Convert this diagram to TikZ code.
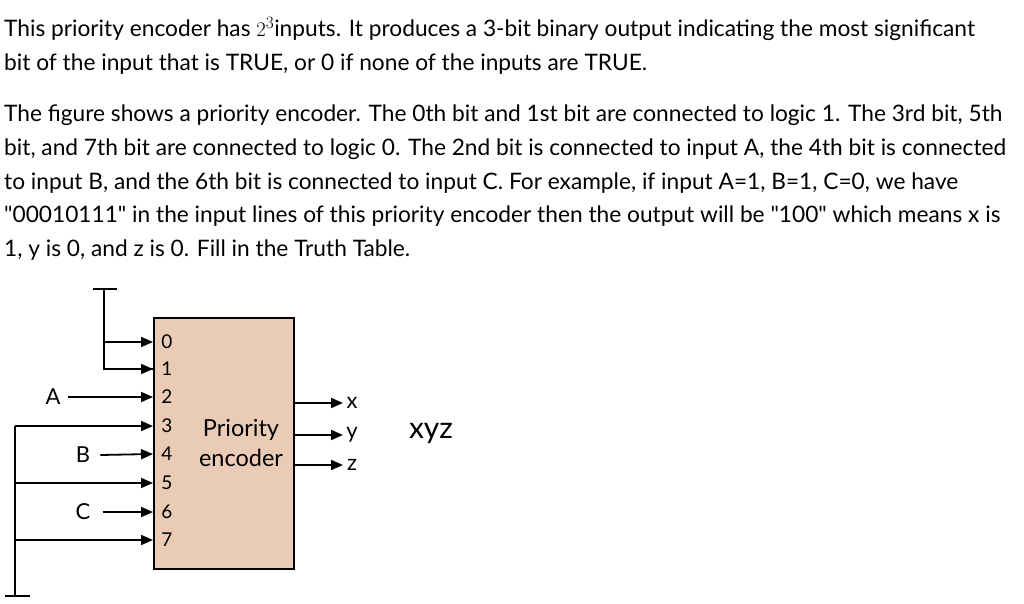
\documentclass[tikz,border=0pt]{standalone}
\usepackage{fontspec}
\setmainfont{Lato}
\usetikzlibrary{arrows.meta}
\definecolor{boxfill}{RGB}{234,204,182}
\begin{document}
\begin{tikzpicture}[x=1pt,y=-1pt,
  txt/.style={anchor=west,inner sep=0,font=\fontsize{22.7}{25}\selectfont},
  lbl/.style={inner sep=0,font=\fontsize{22}{24}\selectfont},
  wire/.style={line width=1.8pt},
  arr/.style={wire,-{Triangle[length=12pt,width=10pt]}}]
\useasboundingbox (0,0) rectangle (1024,604);
\node[txt] (t1) at (4,29) {This priority encoder has $2^3$inputs. It produces a 3-bit binary output indicating the most significant};
\node[txt] (t2) at (4,64) {bit of the input that is TRUE, or 0 if none of the inputs are TRUE.};
\node[txt] (t3) at (4,115) {The figure shows a priority encoder. The 0th bit and 1st bit are connected to logic 1. The 3rd bit, 5th};
\node[txt] (t4) at (4,149) {bit, and 7th bit are connected to logic 0. The 2nd bit is connected to input A, the 4th bit is connected};
\node[txt] (t5) at (4,183) {to input B, and the 6th bit is connected to input C. For example, if input A=1, B=1, C=0, we have};
\node[txt] (t6) at (4,216) {\textquotedbl 00010111\textquotedbl{} in the input lines of this priority encoder then the output will be \textquotedbl 100\textquotedbl{} which means x is};
\node[txt] (t7) at (4,250) {1, y is 0, and z is 0. Fill in the Truth Table.};
% box
\node[draw,line width=1.8pt,fill=boxfill,minimum width=140pt,minimum height=251pt,anchor=north west,inner sep=0] (box) at (153,317) {};
\node[lbl,align=center,font=\fontsize{23.5}{26}\selectfont] (pe) at (241,443) {Priority\\[4pt]encoder};
\foreach \i/\y in {0/342,1/369,2/397,3/426,4/454,5/483,6/512,7/540}{
  \coordinate (p\i) at (153,\y);
  \node[lbl,font=\fontsize{19}{21}\selectfont] (n\i) at (167,\y) {\i};
}
% logic 1
\coordinate (vt) at (104,289);
\coordinate (vtl) at (93,289); \coordinate (vtr) at (117,289);
\draw[wire] (vtl) -- (vtr);
\draw[wire] (vt) |- (p1);
\draw[arr] (104,342) -- (p0);
\draw[arr] (104,369) -- (p1);
% logic 0
\coordinate (vb) at (15,596);
\draw[wire] (5,596) -- (30,596);
\draw[wire] (vb) -- (15,426);
\draw[arr] (15,426) -- (p3);
\draw[arr] (15,483) -- (p5);
\draw[arr] (15,540) -- (p7);
% inputs
\node[lbl] (A) at (53,397) {A};
\node[lbl] (B) at (83,455) {B};
\node[lbl] (C) at (83,512) {C};
\draw[arr] (A.east)++(7,0) -- (p2);
\draw[arr] (B.east)++(10,0) -- (p4);
\draw[arr] (C.east)++(12,0) -- (p6);
% outputs
\foreach \o/\y in {x/403,y/435,z/465}{
  \node[lbl] (o\o) at (352,\y) {\o};
  \draw[arr] (293,\y) -- (343,\y);
}
\node[inner sep=0,font=\fontsize{30}{34}\selectfont] (xyz) at (431,433) {xyz};
\end{tikzpicture}
\end{document}
